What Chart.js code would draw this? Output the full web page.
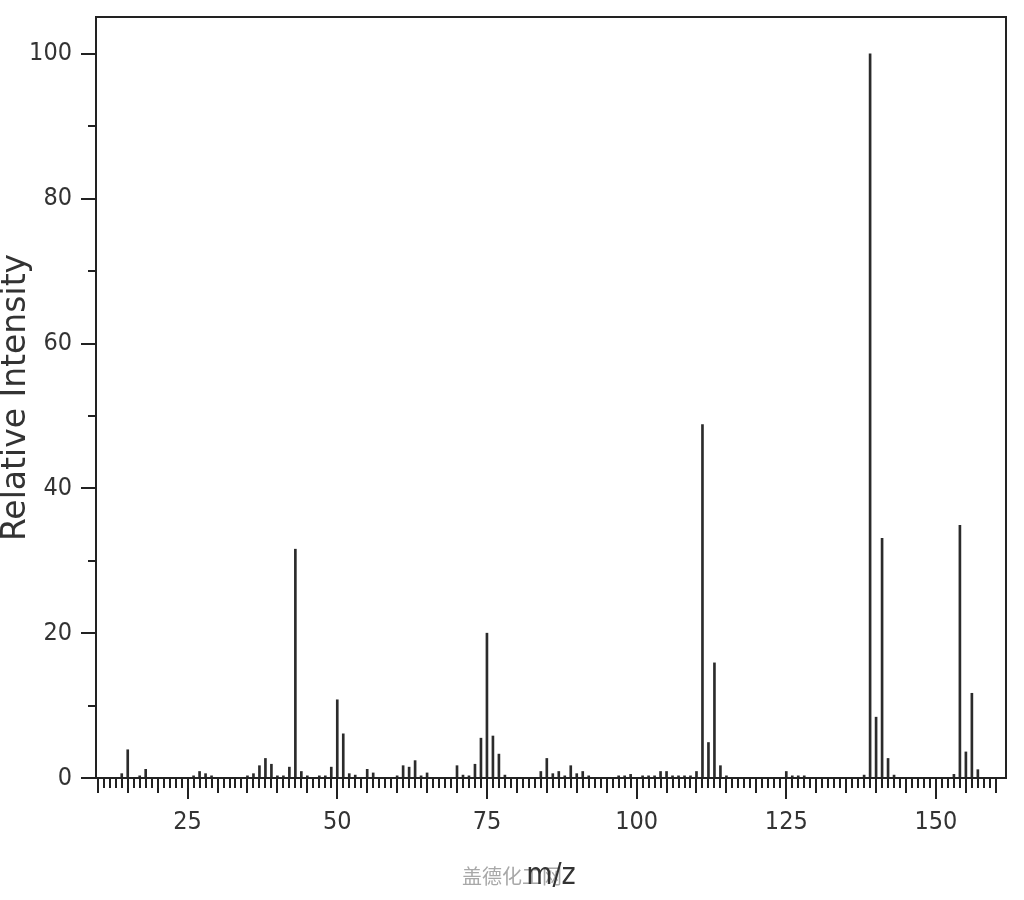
<!DOCTYPE html>
<html>
<head>
<meta charset="utf-8">
<script src="https://cdn.jsdelivr.net/npm/chart.js@4.4.0/dist/chart.umd.min.js"></script>
<style>
html,body{margin:0;padding:0;background:#fff;}
#wrap{width:1024px;height:900px;}
</style>
</head>
<body>
<div id="wrap"><canvas id="c" width="1024" height="900"></canvas></div>
<script>
// m/z values of the peaks
const mz = [14,15,17,18,26,27,28,29,35,36,37,38,39,40,41,42,43,44,45,47,48,49,50,51,52,53,55,56,
  60,61,62,63,64,65,70,71,72,73,74,75,76,77,78,84,85,86,87,88,89,90,91,92,
  97,98,99,101,102,103,104,105,106,107,108,109,110,111,112,113,114,115,125,126,127,128,
  138,139,140,141,142,143,153,154,155,156,157];
// relative intensities (%)
const intensity = [0.6,3.9,0.3,1.2,0.3,0.9,0.6,0.3,0.3,0.6,1.7,2.7,1.9,0.3,0.3,1.5,31.6,0.9,0.3,0.3,0.3,1.5,10.8,6.1,0.6,0.4,1.2,0.7,
  0.3,1.7,1.5,2.4,0.3,0.7,1.7,0.4,0.3,1.9,5.5,20.0,5.8,3.3,0.4,0.9,2.7,0.6,0.9,0.3,1.7,0.6,0.9,0.3,
  0.3,0.3,0.5,0.3,0.3,0.3,0.9,0.9,0.3,0.3,0.3,0.3,0.9,48.8,4.9,15.9,1.7,0.3,0.9,0.3,0.3,0.3,
  0.4,100,8.4,33.1,2.7,0.4,0.5,34.9,3.6,11.7,1.15];
const xTickLabels = [25,50,75,100,125,150];
const yTickLabels = [0,20,40,60,80,100];
const xMinorFirst = 10, xMinorLast = 160;   // unit tick marks on the m/z axis
const yMinorStep = 10;                      // minor tick step on the intensity axis

const labelFont = {family:'"Liberation Sans Narrow","DejaVu Sans Condensed","DejaVu Sans",sans-serif', size:25};

const axesPlugin = {
  id:'axesPlugin',
  beforeDraw(chart){
    const {ctx} = chart;
    ctx.save();
    ctx.fillStyle = '#a8a8a8';
    ctx.font = '20px "Noto Sans CJK SC", sans-serif';
    ctx.textBaseline = 'middle';
    ctx.textAlign = 'left';
    ctx.fillText('盖德化工网', 462, 876);
    ctx.restore();
  },
  afterDraw(chart){
    const {ctx, chartArea:{left,right,top,bottom}, scales:{x,y}} = chart;
    ctx.save();
    ctx.strokeStyle = '#222';
    ctx.lineWidth = 2;
    ctx.beginPath();
    ctx.moveTo(left, bottom); ctx.lineTo(left, top); ctx.lineTo(right, top);
    ctx.lineTo(right, bottom); ctx.lineTo(left, bottom);
    ctx.stroke();
    ctx.beginPath();
    for (let m = xMinorFirst; m <= xMinorLast; m++) {
      const px = Math.round(x.getPixelForValue(m));
      const len = m % 25 === 0 ? 21 : (m % 5 === 0 ? 15 : 10);
      ctx.moveTo(px, bottom); ctx.lineTo(px, bottom + len);
    }
    for (let v = 0; v <= 100; v += yMinorStep) {
      const py = Math.round(y.getPixelForValue(v));
      const len = v % 20 === 0 ? 15 : 8;
      ctx.moveTo(left, py); ctx.lineTo(left - len, py);
    }
    ctx.stroke();
    ctx.restore();
  }
};

new Chart(document.getElementById('c'), {
  type:'bar',
  data:{
    datasets:[{
      data: mz.map((m,i)=>({x:m, y:intensity[i]})),
      backgroundColor:'#2b2b2b',
      borderWidth:0,
      barThickness:2
    }]
  },
  options:{
    responsive:false,
    animation:false,
    layout:{padding:{top:17, right:18, left:0, bottom:0}},
    plugins:{legend:{display:false}, tooltip:{enabled:false}},
    scales:{
      x:{
        type:'linear', min:9.7, max:161.7, offset:false,
        grid:{display:false, drawTicks:false},
        border:{display:false},
        afterBuildTicks:(s)=>{ s.ticks = xTickLabels.map(v=>({value:v})); },
        afterFit:(s)=>{ s.height = 122; s.paddingLeft = 0; s.paddingRight = 0; },
        ticks:{padding:29, font:labelFont, color:'#333', maxRotation:0, autoSkip:false},
        title:{display:true, text:'m/z', color:'#333',
          font:{family:'"Liberation Sans Narrow","DejaVu Sans Condensed","DejaVu Sans",sans-serif', size:30},
          padding:{bottom:6, top:0}}
      },
      y:{
        type:'linear', min:0, max:105.1,
        grid:{display:false, drawTicks:false},
        border:{display:false},
        afterBuildTicks:(s)=>{ s.ticks = yTickLabels.map(v=>({value:v})); },
        afterFit:(s)=>{ s.width = 96; s.paddingTop = 0; s.paddingBottom = 0; },
        ticks:{padding:24, font:labelFont, color:'#333', autoSkip:false},
        title:{display:true, text:'Relative Intensity', color:'#333',
          font:{family:'"DejaVu Sans",sans-serif', size:33, lineHeight:1},
          padding:{top:0, bottom:0}}
      }
    }
  },
  plugins:[axesPlugin]
});
</script>
</body>
</html>
